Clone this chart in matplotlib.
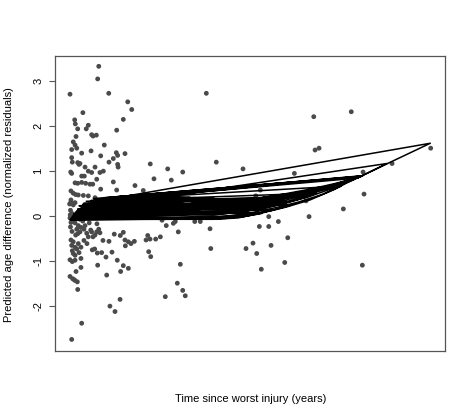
import matplotlib
matplotlib.use('Agg')
import matplotlib.pyplot as plt

# Observed residuals: time since worst injury (years) and normalized residual
time_years = [
    0.05, 0.19, 2.44, 2.35, 3.27, 1.12, 4.85, 5.18, 11.38, 0.44,
    0.49, 1.57, 1.40, 0.69, 4.48, 3.93, 0.55, 1.85, 1.96, 2.24,
    0.32, 0.47, 0.61, 2.90, 0.19, 1.02, 1.80, 3.90, 4.01, 4.62,
    2.60, 0.19, 0.24, 0.69, 0.80, 0.88, 3.29, 3.65, 4.01, 4.05,
    6.72, 1.30, 2.13, 1.57, 1.85, 2.82, 2.54, 0.11, 0.19, 7.03,
    2.27, 1.02, 1.24, 0.47, 0.69, 1.02, 1.35, 1.94, 1.71, 3.65,
    5.45, 2.60, 3.93, 6.14, 0.13, 0.32, 0.52, 0.74, 1.16, 1.57,
    2.13, 0.11, 0.47, 0.02, 0.32, 8.17, 9.42, 8.47, 12.21, 14.43,
    20.31, 23.43, 20.42, 20.75, 30.03, 26.82, 18.70, 24.41, 24.49, 15.87,
    15.49, 19.67, 22.77, 19.92, 16.57, 17.37, 15.79, 16.57, 18.15, 15.26,
    14.68, 15.57, 16.76, 17.90, 15.95, 24.35, 7.70, 8.05, 8.64, 8.80,
    9.05, 10.42, 10.88, 11.69, 7.17, 7.56, 6.76, 6.59, 11.75, 9.22,
    8.97, 9.42, 9.63, 7.97, 6.37, 6.51, 6.70, 5.40, 4.62, 4.90,
    5.12, 4.65, 3.73, 4.23, 4.48, 3.98, 4.26, 4.48, 4.90, 3.10,
    2.35, 4.21, 3.37, 3.79, 1.02, 0.69, 3.54, 3.04, 2.68, 2.32,
    2.10, 1.90, 2.44, 2.54, 1.44, 1.77, 1.65, 2.29, 1.30, 1.85,
    2.13, 1.96, 0.05, 0.13, 0.47, 0.74, 0.96, 0.61, 0.88, 0.69,
    0.52, 0.13, 0.32, 0.19, 0.47, 0.24, 0.32, 0.61, 0.80, 0.96,
    0.74, 0.47, 0.05, 0.24, 0.96, 0.47, 0.05, 0.27, 0.47, 0.66,
    0.38, 0.55, 0.22, 0.09, 0.34, 1.11, 1.21, 0.86, 1.21, 1.46,
    0.07, 0.32, 1.57, 2.27, 2.79, 3.29, 0.96, 0.09, 0.22, 0.13,
]
residuals = [
    2.70, -2.75, 3.32, 3.04, 2.72, 2.29, 2.53, 2.36, 2.72, 2.13,
    2.04, 2.01, 1.93, 1.93, 2.14, 1.90, 1.76, 1.80, 1.77, 1.79,
    1.64, 1.57, 1.50, 1.57, 1.47, 1.39, 1.44, 1.40, 1.34, 1.38,
    1.33, 1.29, 1.19, 1.18, 1.14, 1.16, 1.19, 1.27, 1.14, 1.08,
    1.15, 1.08, 1.08, 0.99, 0.96, 0.99, 0.96, 0.97, 0.94, 0.82,
    0.81, 0.88, 0.88, 0.73, 0.72, 0.74, 0.72, 0.70, 0.70, 0.75,
    0.67, 0.59, 0.57, 0.56, 0.55, 0.50, 0.47, 0.46, 0.45, 0.44,
    0.40, 0.29, 0.29, 0.26, 0.24, 1.04, 0.97, 0.79, 1.19, 1.04,
    2.20, 2.31, 1.46, 1.50, 1.50, 1.16, 0.94, 0.97, 0.48, 0.57,
    0.44, 0.33, 0.15, -0.02, -0.02, -0.13, -0.24, -0.24, -0.49, -0.61,
    -0.73, -0.84, -0.66, -1.04, -1.19, -1.10, -0.10, -0.22, -0.17, -0.13,
    -0.36, -0.13, -0.13, -0.29, -0.52, -0.47, -0.91, -0.80, -0.73, -1.08,
    -1.50, -1.66, -1.78, -1.80, -0.54, -0.44, -0.52, -0.57, -0.54, -0.58,
    -0.62, -0.67, -0.41, -0.44, -0.37, -0.99, -1.24, -1.11, -1.17, -1.32,
    -1.10, -1.86, -2.01, -2.13, -2.39, -1.64, -0.81, -0.92, -0.82, -0.83,
    -0.74, -0.76, -0.30, -0.38, -0.39, -0.32, -0.16, -0.18, -0.22, -0.36,
    -0.43, -0.47, -0.05, -0.15, -0.16, -0.22, -0.26, -0.30, -0.36, -0.40,
    -0.43, -0.54, -0.58, -0.66, -0.70, -0.78, -0.84, -0.74, -0.82, -0.70,
    -0.62, -0.88, -0.98, -1.02, -0.95, -0.99, -1.35, -1.40, -1.44, -1.47,
    -1.42, -1.24, -0.35, -0.25, -0.10, -0.12, -0.30, -0.08, -0.55, -0.62,
    0.02, -0.02, -0.47, -0.36, -0.55, -0.57, -1.15, 0.12, 0.05, 0.35,
]

# Fitted values, joined in data order (one row of each list per subject)
fit_time = [
    0.05, 6, 12, 14, 16, 18, 20, 22, 23, 24.4, 30,
    4.6, 9,
    0.3, 5, 12, 14, 16, 18, 20, 22, 24.3,
    3.0, 7, 11,
    0.6, 8, 14, 16, 18, 20, 22, 24.2,
    2.0, 6,
    0.15, 10, 14, 16, 17,
    0.9, 9, 14, 16, 18, 20, 22, 24.35, 26.4,
    7.9, 10,
    0.4, 7, 12, 15, 17, 19, 20.5,
    1.4, 8, 14, 16, 18, 20, 22, 24.2,
    3.5, 5.5,
    0.2, 11, 14, 15.5,
    0.7, 6, 12, 15, 17, 19, 21, 23, 24.4,
    2.4, 9, 13,
    0.1, 8, 13, 15, 17, 18.5,
    1.1, 10, 14, 16, 18, 20, 22, 23.7,
    5.5, 8.5,
    0.5, 10, 14, 16, 18,
    0.25, 9, 13, 15, 17, 19, 21, 22.6,
    1.8, 7, 12, 15, 17, 19, 21, 23, 24.3,
    6.5, 10.5,
    0.8, 11, 14, 16, 17.5,
    0.35, 8, 13, 15, 17, 19, 20,
    1.2, 5, 11, 14, 16,
    0.08, 12, 14.5, 16,
    0.65, 9.5, 14, 16, 18, 20, 22, 24.2,
    4.2, 12,
    0.55, 11.5, 14.5, 16.5,
    1.0, 7.5, 13, 15, 17, 18,
]
fit_value = [
    -0.09, -0.08, -0.08, -0.05, 0.06, 0.19, 0.35, 0.58, 0.72, 0.90, 1.61,
    0.43, 0.42,
    0.00, 0.00, 0.02, 0.07, 0.15, 0.28, 0.43, 0.62, 0.88,
    0.40, 0.40, 0.39,
    0.10, 0.10, 0.16, 0.24, 0.35, 0.48, 0.65, 0.87,
    0.38, 0.38,
    -0.06, -0.07, -0.03, 0.07, 0.13,
    0.20, 0.20, 0.25, 0.32, 0.42, 0.54, 0.68, 0.89, 1.16,
    0.42, 0.41,
    0.05, 0.04, 0.06, 0.13, 0.24, 0.38, 0.50,
    0.32, 0.31, 0.35, 0.40, 0.49, 0.59, 0.71, 0.86,
    0.41, 0.41,
    -0.04, -0.05, 0.00, 0.06,
    0.15, 0.15, 0.16, 0.24, 0.33, 0.45, 0.58, 0.76, 0.89,
    0.36, 0.36, 0.37,
    -0.08, -0.08, -0.06, 0.02, 0.13, 0.24,
    0.25, 0.25, 0.30, 0.36, 0.45, 0.56, 0.69, 0.83,
    0.40, 0.40,
    0.08, 0.08, 0.13, 0.21, 0.32,
    -0.02, -0.03, -0.01, 0.06, 0.17, 0.30, 0.47, 0.66,
    0.34, 0.33, 0.33, 0.37, 0.43, 0.52, 0.62, 0.77, 0.88,
    0.41, 0.40,
    0.22, 0.22, 0.27, 0.34, 0.41,
    0.03, 0.02, 0.05, 0.12, 0.22, 0.36, 0.44,
    0.28, 0.28, 0.28, 0.32, 0.38,
    -0.09, -0.07, -0.02, 0.05,
    0.12, 0.12, 0.19, 0.28, 0.39, 0.52, 0.66, 0.87,
    0.40, 0.39,
    0.06, 0.06, 0.12, 0.20,
    0.18, 0.18, 0.21, 0.27, 0.36, 0.41,
]

y_ticks = [-2, -1, 0, 1, 2, 3]
y_tick_labels = ['-2', '-1', '0', '1', '2', '3']
x_label = 'Time since worst injury (years)'
y_label = 'Predicted age difference (normalized residuals)'

plt.rcParams['font.family'] = ['Liberation Sans', 'DejaVu Sans']

fig = plt.figure(figsize=(4.74, 4.2), dpi=100)
ax = fig.add_axes([55 / 474, 1 - 351 / 420, 390 / 474, 295 / 420])

ax.scatter(time_years, residuals, s=12, color='#4a4a4a', edgecolors='none', zorder=2)
ax.plot(fit_time, fit_value, color='black', lw=1.1, zorder=3,
        solid_joinstyle='round', solid_capstyle='round')

ax.set_xlim(-1.197, 31.22)
ax.set_ylim(-3.007, 3.549)
ax.set_xticks([])
ax.set_yticks(y_ticks)
ax.set_yticklabels(y_tick_labels, rotation=90, va='center', fontsize=8)
ax.tick_params(axis='y', length=4.5, width=0.8, color='#555555', pad=4)
for sp in ax.spines.values():
    sp.set_color('#555555')
    sp.set_linewidth(0.9)

fig.text(9 / 474, 1 - 205 / 420, y_label, rotation=90, ha='center', va='center', fontsize=8)
fig.text(250.7 / 474, 1 - 399.3 / 420, x_label, ha='center', va='center', fontsize=8)

fig.savefig('out.png', dpi=100)
